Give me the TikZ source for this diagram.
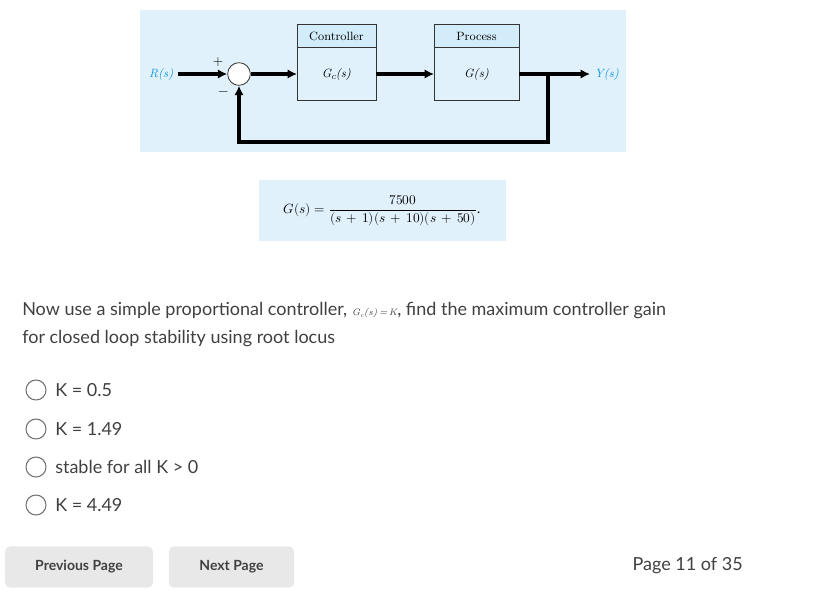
\documentclass[tikz,border=0pt]{standalone}
\usepackage{fontspec}
\setmainfont{Lato}
\newfontfamily\lmr{Latin Modern Roman}
\usepackage{unicode-math}
\setmathfont{Latin Modern Math}
\begin{document}
\begin{tikzpicture}[x=0.75pt,y=-0.75pt,
  blk/.style={draw=black!80,line width=0.6pt},
  sig/.style={line width=2.4pt,-{Latex[length=7pt,width=7pt]}},
  wire/.style={line width=2.4pt},
  lab/.style={text=cyan!80!blue,font=\lmr\itshape\small},
  q/.style={font=\fontsize{13.5pt}{16pt}\selectfont,text=black!75,anchor=west,inner sep=0},
  radio/.style={circle,draw=black!55,line width=0.8pt,minimum size=15pt,inner sep=0},
  btn/.style={rounded corners=4pt,fill=gray!18,font=\fontsize{10.5pt}{12pt}\selectfont\bfseries,text=black!75}]
\usetikzlibrary{arrows.meta}
\useasboundingbox (0,0) rectangle (823,606);
\definecolor{bgb}{HTML}{E0F1FB}
\definecolor{hdr}{HTML}{D3ECFA}
\fill[bgb] (140,10) rectangle (626,152);
% boxes
\fill[hdr] (297,24) rectangle (376,47);
\fill[hdr] (434,24) rectangle (519,47);
\node[blk,minimum width=59.25pt,minimum height=57pt] (ctl) at (336.5,62) {};
\node[blk,minimum width=63.75pt,minimum height=57pt] (pro) at (476.5,62) {};
\draw[blk] (297,47) -- (376,47);
\draw[blk] (434,47) -- (519,47);
\node[font=\lmr\small] (ct) at (336.5,36) {Controller};
\node[font=\lmr\small] (pt) at (476.5,36) {Process};
\node[font=\lmr\itshape\small] (gc) at (336.5,74) {G\kern-0.5pt\raisebox{-2pt}{\scriptsize c}(s)};
\node[font=\lmr\itshape\small] (gp) at (476.5,74) {G(s)};
\node[circle,draw=black!80,fill=white,line width=0.6pt,minimum size=17pt,inner sep=0] (sum) at (239,74) {};
\node[lab,anchor=east] (r) at (178,74) {R(s)};
\node[lab,anchor=west] (y) at (590,74) {Y(s)};
\node[font=\lmr] (plus) at (218,62) {+};
\node[font=\lmr] (minus) at (224,94) {$-$};
\coordinate (tap) at (548,74);
\coordinate (c1) at (548,142);
\coordinate (c2) at (239,142);
\draw[sig] (r.east) -- (sum.west);
\draw[sig] (sum.east) -- (297,74);
\draw[sig] (376,74) -- (434,74);
\draw[sig] (519,74) -- (y.west);
\draw[wire,-{Latex[length=7pt,width=7pt]}] (tap) -- (c1) -- (c2) -- (sum.south);
% formula
\fill[bgb] (259,180) rectangle (506,241);
\node (f) at (382,211) {$G(s)=\dfrac{7500}{(s\,+\,1)(s\,+\,10)(s\,+\,50)}$.};
% question
\node[q] (l1) at (22,311) {Now use a simple proportional controller, {\lmr\itshape\scriptsize G\raisebox{-1.5pt}{\tiny c}(s)\,=\,K}, find the maximum controller gain};
\node[q] (l2) at (22,339) {for closed loop stability using root locus};
\node[radio] (o1) at (36,390) {};
\node[radio] (o2) at (36,429) {};
\node[radio] (o3) at (36,467) {};
\node[radio] (o4) at (36,505) {};
\node[q] (t1) at (55,390) {K = 0.5};
\node[q] (t2) at (55,429) {K = 1.49};
\node[q] (t3) at (55,467) {stable for all K > 0};
\node[q] (t4) at (55,505) {K = 4.49};
\node[btn,minimum width=111pt,minimum height=31pt] (prev) at (79,567) {Previous Page};
\node[btn,minimum width=94pt,minimum height=31pt] (next) at (231.5,567) {Next Page};
\node[q,anchor=east] (pg) at (743,566) {Page 11 of 35};
\end{tikzpicture}
\end{document}
